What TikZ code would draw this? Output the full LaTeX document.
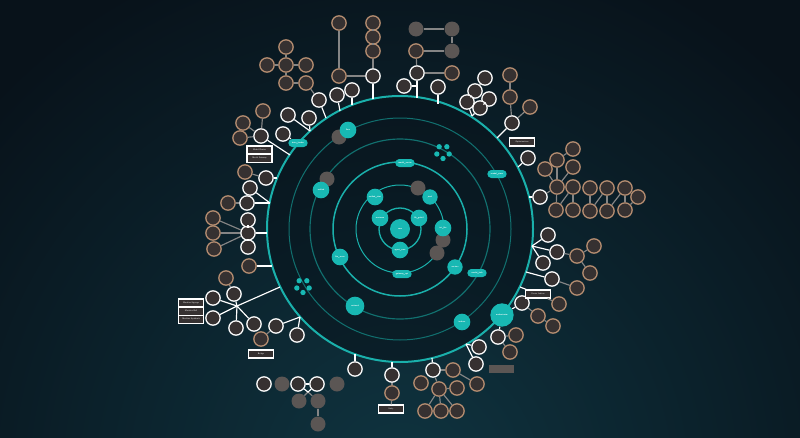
\documentclass[tikz,border=0pt]{standalone}
\definecolor{bgdark}{HTML}{08121A}
\definecolor{bgglow}{HTML}{0F3440}
\definecolor{ringteal}{HTML}{1AB0AB}
\definecolor{ringdim}{HTML}{11706F}
\definecolor{tealfill}{HTML}{18B8B3}
\definecolor{nodefill}{HTML}{363131}
\definecolor{tanline}{HTML}{B88F72}
\definecolor{grayfill}{HTML}{5B5654}
\definecolor{linkgray}{HTML}{858585}
\begin{document}
\begin{tikzpicture}[x=0.3mm, y=-0.3mm,
		wnode/.style={circle, fill=nodefill, draw=white, line width=0.38mm, minimum size=4.3mm, inner sep=0pt},
		tnode/.style={wnode, draw=tanline},
		gnode/.style={circle, fill=grayfill, minimum size=4.5mm, inner sep=0pt},
		hub/.style={circle, fill=tealfill, minimum size=5mm, inner sep=0pt, text=white, font=\fontsize{1.8}{2}\selectfont\sffamily\bfseries},
		pill/.style={hub, rectangle, rounded corners=1.2mm, minimum width=5.8mm, minimum height=2.4mm},
		dot/.style={circle, fill=tealfill, minimum size=1.6mm, inner sep=0pt},
		tagbox/.style={rectangle, draw=white, line width=0.35mm, fill=nodefill, minimum width=7.5mm, minimum height=2.4mm, inner sep=0pt, text=white, font=\fontsize{1.8}{2}\selectfont\sffamily},
		wline/.style={white, line width=0.35mm},
		gline/.style={linkgray, line width=0.35mm}]
	\useasboundingbox (0,0) rectangle (800,437);
	\fill[bgdark] (0,0) rectangle (800,437);
	\shade[inner color=bgglow, outer color=bgdark] (400,480) circle (560);
	\fill[bgdark, opacity=0.5] (400,229) circle (133);
	\foreach \r/\c/\w in {21/ringteal/0.4, 44/ringteal/0.3, 67/ringteal/0.45, 90/ringdim/0.35, 111/ringdim/0.3, 133/ringteal/0.6}
		\draw[\c, line width=\w mm] (400,229) circle (\r);
	% nodes on the rings
	\foreach \n/\x/\y in {g1/418/188, g2/339/137, g3/327/179, g4/443/240, g5/437/253}
		\node[gnode] (\n) at (\x,\y) {};
	\node[hub, minimum size=6mm] (core) at (400,229) {core};
	\node[hub] (a1) at (380,218) {sentence};
	\node[hub] (a2) at (419,218) {lib\_gdutil};
	\node[hub] (a3) at (400,250) {agent\_core};
	\node[hub] (b1) at (375,197) {unified\_chat};
	\node[hub, minimum size=4.6mm] (b2) at (430,197) {jsonl};
	\node[hub] (b3) at (443,228) {tei\_llm};
	\node[pill] (b4) at (402,274) {gateway\_api};
	\node[pill] (c1) at (405,163) {model\_router};
	\node[hub] (c2) at (340,257) {llm\_serve};
	\node[hub, minimum size=4.6mm] (c3) at (455,267) {vectors};
	\node[hub] (d1) at (321,190) {unified};
	\node[hub, minimum size=5.6mm] (d2) at (355,306) {retrieval};
	\node[pill] (d3) at (477,273) {model\_hub};
	\node[hub] (e1) at (348,130) {llms};
	\node[pill] (e2) at (497,174) {model\_store};
	\node[hub] (e3) at (462,322) {indexer};
	\node[pill] (f1) at (298,143) {data\_loader};
	\node[hub, minimum size=7mm] (f2) at (502,315) {orchestrator};
	\coordinate (cl1) at (443,152);
	\coordinate (cl2) at (303,286);
	\foreach \a in {18,90,...,306} {
		\path (cl1) ++(\a:6.5) node[dot] {};
		\path (cl2) ++(\a:6.5) node[dot] {};
	}
	% outer nodes
	\foreach \n/\x/\y in {w1/373/76, w2/417/73, w3/404/86, w4/438/87, w5/352/90, w6/337/95, w7/319/100, w8/288/115, w9/309/118,
		w10/283/134, w11/261/136, w12/485/78, w13/475/91, w14/489/99, w15/467/102, w16/480/108, w17/512/123, w18/528/158,
		w19/540/197, w20/548/235, w21/557/252, w22/543/263, w23/552/279, w24/522/303, w25/498/337, w26/479/347, w27/476/364,
		w28/433/370, w29/392/375, w30/355/369, w31/264/384, w32/298/384, w33/317/384, w34/297/335, w35/276/326, w36/254/324,
		w37/236/328, w38/213/318, w39/213/298, w40/234/294, w41/248/247, w42/248/233, w43/248/220, w44/247/203, w45/250/188, w46/266/178}
		\node[wnode] (\n) at (\x,\y) {};
	\foreach \n/\x/\y in {t1/286/47, t2/267/65, t3/286/65, t4/306/65, t5/286/83, t6/306/83, t7/339/23, t8/339/76, t9/373/23,
		t10/373/37, t11/373/51, t12/416/51, t13/452/73, t14/510/75, t15/510/97, t16/530/107, t17/263/111, t18/243/123, t19/240/138,
		t20/573/149, t21/557/160, t22/573/167, t23/545/169, t24/557/187, t25/573/187, t26/590/188, t27/607/188, t28/625/188,
		t29/638/197, t30/556/210, t31/573/210, t32/590/211, t33/607/211, t34/625/210, t35/594/246, t36/577/256, t37/590/273,
		t38/577/288, t39/559/304, t40/538/316, t41/553/326, t42/516/335, t43/510/352, t44/453/370, t45/421/383, t46/439/389,
		t47/457/388, t48/477/384, t49/425/411, t50/441/411, t51/457/411, t52/392/393, t53/261/339, t54/226/278, t55/249/266,
		t56/213/218, t57/213/233, t58/214/249, t59/228/203, t60/245/172}
		\node[tnode] (\n) at (\x,\y) {};
	\foreach \n/\x/\y in {o1/416/29, o2/452/29, o3/452/51, o4/282/384, o5/337/384, o6/299/401, o7/318/401, o8/318/424}
		\node[gnode] (\n) at (\x,\y) {};
	\node[tagbox] (r1) at (259.5,150) {Model Router};
	\node[tagbox] (r2) at (259.5,158.2) {Model Gateway};
	\node[tagbox] (r3) at (522,142) {Optimisations};
	\node[tagbox] (r4) at (538,294) {Vector Indices};
	\node[tagbox] (r5) at (191,303) {Machine Signage};
	\node[tagbox] (r6) at (191,311.2) {Machine Bell};
	\node[tagbox] (r7) at (191,319.4) {Machine Synthesis};
	\node[tagbox] (r8) at (261,354) {Bridge};
	\node[tagbox] (r9) at (391,409) {Unity};
	\node[rectangle, fill=grayfill, minimum width=7.5mm, minimum height=2.6mm] (r10) at (501,369) {};
	% links
	\foreach \n/\x/\y in {j1/373/99, j2/417/98, k3/417/86, j4/438/104, j5/352/105, j6/340/111, j7/326/118, j8/310/131,
		j11/290/155, j15/472/116, j17/497/138, j18/518/167, j19/529/197, j20/532/246, j23/526/272, j24/520/287, j26/466/344,
		j28/432/358, j29/392/362, j30/355/354, j34/300/317, j36/280/287, k36/237/306, j42/267/233, j55/272/266, j44/270/203,
		j46/277/178, k32/308/392}
		\coordinate (\n) at (\x,\y);
	\foreach \a/\b in {w1/j1, w2/j2, w3/k3, w4/j4, w5/j5, w6/j6, w7/j7, w8/j8, w9/j8, w10/f1, w11/j11, w15/j15, w16/j15,
		w15/w13, w13/w12, w16/w14, w17/j17, w18/j18, w19/j19, w20/j20, w21/j20, w22/j20, w23/j23, r4/j24, w24/f2, w25/f2,
		w26/j26, w27/j26, w28/j28, w29/j29, w30/j30, w34/j34, w35/j34, j36/k36, w36/k36, w37/k36, w38/k36, w39/k36, w40/k36,
		w42/j42, w43/w42, w42/w41, t55/j55, w44/j44, w45/j44, w46/j46, w32/w33}
		\draw[wline] (\a) -- (\b);
	\foreach \a/\b in {t1/t3, t2/t3, t3/t4, t3/t5, t5/t6, t6/w7, t7/t8, t8/w1, t9/t10, t10/t11, t11/w1, o1/o2, o2/o3, o3/t12,
		t12/w2, w2/t13, t14/t15, t15/w17, t16/w17, t17/w11, t18/w11, t19/w11, t21/t20, t21/t24, t23/t24, t22/t24, w19/t24,
		t24/t30, t25/t31, t26/t32, t27/t33, t28/t34, t25/t30, t27/t32, t28/t33, t29/t34, t36/w21, t35/t36, t36/t37, t38/w23,
		r4/t39, w24/t40, t40/t41, w25/t42, w25/t43, w28/t44, t44/t48, w28/t46, t46/t47, t46/t49, t46/t50, t46/t51, w29/t52,
		t52/r9, w35/t53, w40/t54, w42/t56, w42/t57, w42/t58, w44/t59, w46/t60, k32/o6, k32/o7, o7/o8}
		\draw[gline] (\a) -- (\b);
	\draw[wline] (w32) -- (k32) -- (w33);
\end{tikzpicture}
\end{document}
